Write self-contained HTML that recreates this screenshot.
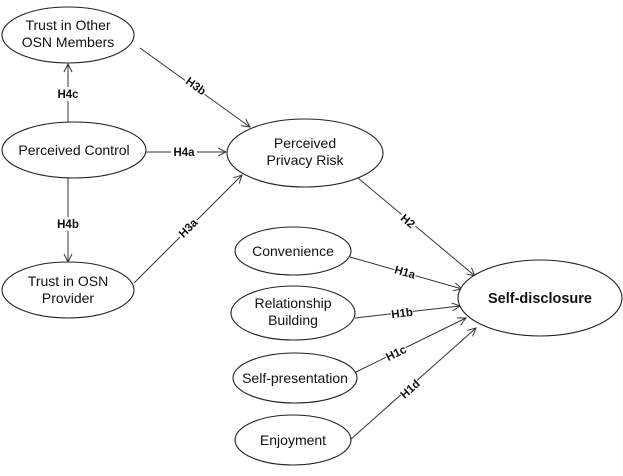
<!DOCTYPE html>
<html><head><meta charset="utf-8"><style>
body{margin:0;background:#fff}
svg{display:block}
text{font-family:"Liberation Sans",Arial,sans-serif;fill:#111}
.n{font-size:14px;text-anchor:middle}
.l{font-size:11.5px;font-weight:bold;text-anchor:middle}
ellipse{fill:#fff;stroke:#222;stroke-width:1.1}
line{stroke:#333;stroke-width:1}
</style></head><body>
<svg width="623" height="476" viewBox="0 0 623 476">
<defs><marker id="a" markerWidth="10" markerHeight="10" refX="9" refY="5" orient="auto" markerUnits="userSpaceOnUse"><path d="M1,1 L9,5 L1,9" fill="none" stroke="#333" stroke-width="1"/></marker></defs>
<g marker-end="url(#a)">
<line x1="68" y1="122" x2="68" y2="64"/>
<line x1="68" y1="178" x2="68" y2="262"/>
<line x1="146" y1="152" x2="226" y2="152"/>
<line x1="140" y1="48" x2="250" y2="127"/>
<line x1="134" y1="283" x2="242" y2="175"/>
<line x1="358" y1="178" x2="475" y2="276"/>
<line x1="350" y1="257" x2="462" y2="289"/>
<line x1="355" y1="318" x2="460" y2="306"/>
<line x1="354" y1="373" x2="466" y2="318"/>
<line x1="350" y1="440" x2="476" y2="328"/>
</g>
<ellipse cx="68" cy="35" rx="66" ry="28"/>
<ellipse cx="74" cy="150" rx="72" ry="28"/>
<ellipse cx="68" cy="290" rx="66" ry="28"/>
<ellipse cx="305" cy="153" rx="78" ry="34"/>
<ellipse cx="293" cy="251" rx="58" ry="24"/>
<ellipse cx="293" cy="313" rx="62" ry="27"/>
<ellipse cx="295" cy="378" rx="62" ry="25"/>
<ellipse cx="293" cy="440" rx="58" ry="25"/>
<ellipse cx="540" cy="298" rx="82" ry="38"/>
<text class="n" x="68" y="30">Trust in Other</text><text class="n" x="68" y="47">OSN Members</text>
<text class="n" x="74" y="155">Perceived Control</text>
<text class="n" x="68" y="286">Trust in OSN</text><text class="n" x="68" y="303">Provider</text>
<text class="n" x="305" y="148">Perceived</text><text class="n" x="305" y="165">Privacy Risk</text>
<text class="n" x="293" y="256">Convenience</text>
<text class="n" x="293" y="308">Relationship</text><text class="n" x="293" y="325">Building</text>
<text class="n" x="295" y="383">Self-presentation</text>
<text class="n" x="293" y="445">Enjoyment</text>
<text class="n" x="540" y="303" style="font-weight:bold;font-size:14.5px">Self-disclosure</text>
<g>
<rect x="56" y="87" width="24" height="14" fill="#fff"/><text class="l" x="68" y="98">H4c</text>
<rect x="56" y="217" width="24" height="14" fill="#fff"/><text class="l" x="68" y="228">H4b</text>
<rect x="171" y="145" width="26" height="14" fill="#fff"/><text class="l" x="184" y="156">H4a</text>
<g transform="translate(196,86) rotate(36)"><rect x="-12" y="-7" width="24" height="14" fill="#fff"/><text class="l" x="0" y="4">H3b</text></g>
<g transform="translate(188,228) rotate(-45)"><rect x="-12" y="-7" width="24" height="14" fill="#fff"/><text class="l" x="0" y="4">H3a</text></g>
<g transform="translate(408,221) rotate(40)"><rect x="-9" y="-7" width="18" height="14" fill="#fff"/><text class="l" x="0" y="4">H2</text></g>
<g transform="translate(405,272) rotate(16)"><rect x="-11" y="-7" width="22" height="14" fill="#fff"/><text class="l" x="0" y="4">H1a</text></g>
<g transform="translate(402,313) rotate(-7)"><rect x="-11" y="-7" width="22" height="14" fill="#fff"/><text class="l" x="0" y="4">H1b</text></g>
<g transform="translate(396,353) rotate(-26)"><rect x="-11" y="-7" width="22" height="14" fill="#fff"/><text class="l" x="0" y="4">H1c</text></g>
<g transform="translate(410,389) rotate(-42)"><rect x="-11" y="-7" width="22" height="14" fill="#fff"/><text class="l" x="0" y="4">H1d</text></g>
</g>
</svg>
</body></html>
